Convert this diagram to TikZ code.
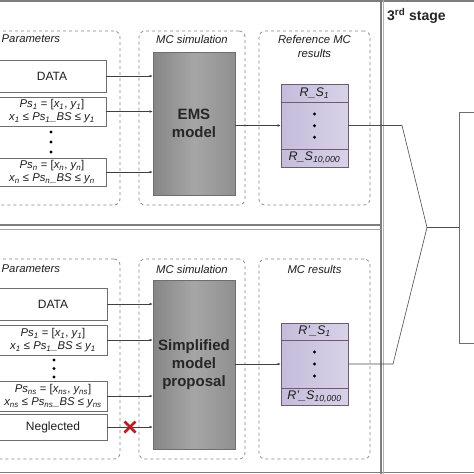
\documentclass[tikz,border=0pt]{standalone}
\usepackage{fontspec}
\setmainfont{Liberation Sans}
\usetikzlibrary{arrows.meta}
\newcommand{\sbs}[1]{\textsubscript{#1}}
\definecolor{frame}{RGB}{125,125,125}
\definecolor{dashc}{RGB}{135,135,135}
\definecolor{boxc}{RGB}{110,110,110}
\definecolor{mgdark}{RGB}{134,134,134}
\definecolor{mglight}{RGB}{166,166,166}
\definecolor{lavL}{RGB}{196,188,218}
\definecolor{lavR}{RGB}{216,210,232}
\definecolor{txt}{RGB}{30,30,30}
\definecolor{xred}{RGB}{180,30,30}
\tikzset{
  dashbox/.style={draw=dashc, dashed, line width=0.7pt, rounded corners=6pt, minimum width=#1},
  inbox/.style={draw=boxc, line width=0.7pt, fill=white, minimum width=108pt, align=center, inner sep=1pt, font=\fontsize{11.3}{13}\selectfont, text=txt},
  modelbox/.style={draw=boxc, line width=0.7pt, left color=mgdark, right color=mgdark!92!white, middle color=mglight, minimum width=82pt, align=center, font=\bfseries\fontsize{15}{18}\selectfont, text=black!85},
  stackrow/.style={draw=boxc!80!violet, line width=0.7pt, left color=lavL, right color=lavR, minimum width=67pt, inner sep=0pt, font=\itshape\fontsize{12.5}{14}\selectfont, text=txt},
  lbl/.style={font=\itshape\fontsize{11.3}{13}\selectfont, text=txt, inner sep=0pt},
  arr/.style={-{Latex[length=3pt,width=2.6pt]}, line width=0.5pt, draw=black!75},
  conn/.style={line width=0.6pt, draw=black!70},
  dotc/.style={circle, fill=black, inner sep=0pt, minimum size=3.3pt}
}
\begin{document}
\begin{tikzpicture}[x=1pt,y=-1pt]
\clip (0,0) rectangle (474,474);
\fill[white] (0,0) rectangle (474,474);

% frames
\draw[frame, line width=2pt] (0,1) -- (474,1);
\draw[frame, line width=1.6pt] (0,472.5) -- (474,472.5);
\draw[frame, line width=1.2pt] (381,0) -- (381,474);
\draw[frame!60, line width=0.7pt] (383.5,0) -- (383.5,474);
\draw[frame, line width=1.2pt] (0,225) -- (381,225);
\draw[frame!70, line width=0.9pt] (0,229.5) -- (381,229.5);
\node[anchor=west, font=\bfseries\fontsize{14}{16}\selectfont, text=black!85, inner sep=0pt] (stage) at (387,16) {3\textsuperscript{rd} stage};

% ---------------- top panel ----------------
\node[dashbox=140pt, minimum height=174pt] (par1) at (50,118) {};
\node[dashbox=106pt, minimum height=174pt] (sim1) at (192,118) {};
\node[dashbox=111pt, minimum height=174pt] (res1) at (314.5,118) {};
\node[lbl, anchor=west] (par1l) at (1.5,39) {Parameters};
\node[lbl] (sim1l) at (192,39) {MC simulation};
\node[lbl, align=center, font=\itshape\fontsize{11.3}{14}\selectfont] (res1l) at (314.5,46) {Reference MC\\results};

\node[inbox, minimum height=32pt, font=\fontsize{12}{14}\selectfont] (data1) at (52,76) {DATA};
\node[inbox, minimum height=29pt] (ps1a) at (52,111.5) {{\itshape Ps\sbs{1}} = [{\itshape x\sbs{1}}, {\itshape y\sbs{1}}]\\{\itshape x\sbs{1}} ≤ {\itshape Ps\sbs{1}\_BS} ≤ {\itshape y\sbs{1}}};
\node[inbox, minimum height=28pt] (psna) at (52,172) {{\itshape Ps\sbs{n}} = [{\itshape x\sbs{n}}, {\itshape y\sbs{n}}]\\{\itshape x\sbs{n}} ≤ {\itshape Ps\sbs{n}\_BS} ≤ {\itshape y\sbs{n}}};
\node[dotc] (d1a) at (51,132) {};
\node[dotc] (d1b) at (51,142) {};
\node[dotc] (d1c) at (51,152) {};

\node[modelbox, minimum height=143pt] (ems) at (194,123.5) {EMS\\model};

\node[stackrow, minimum height=18pt] (r1a) at (314.5,93) {R\_S\sbs{1}};
\node[stackrow, minimum height=47pt] (r1d) at (314.5,125.5) {};
\node[stackrow, minimum height=18pt] (r1b) at (314.5,158) {R\_S\sbs{10,000}};
\node[dotc] (s1a) at (314.5,114) {};
\node[dotc] (s1b) at (314.5,125.7) {};
\node[dotc] (s1c) at (314.5,137.3) {};

\draw[arr] (data1.east) -- (data1.east -| ems.west);
\draw[arr] (ps1a.east) -- (ps1a.east -| ems.west);
\draw[arr] (psna.east) -- (psna.east -| ems.west);
\draw[arr] (ems.east |- r1d.west) -- (r1d.west);

% ---------------- bottom panel ----------------
\node[dashbox=140pt, minimum height=200pt] (par2) at (50,359) {};
\node[dashbox=106pt, minimum height=200pt] (sim2) at (192,359) {};
\node[dashbox=111pt, minimum height=200pt] (res2) at (314.5,359) {};
\node[lbl, anchor=west] (par2l) at (1.5,269) {Parameters};
\node[lbl] (sim2l) at (192,269) {MC simulation};
\node[lbl] (res2l) at (314.5,269) {MC results};

\node[inbox, minimum height=32pt, font=\fontsize{12}{14}\selectfont] (data2) at (53,304) {DATA};
\node[inbox, minimum height=30pt] (ps1b) at (53,340) {{\itshape Ps\sbs{1}} = [{\itshape x\sbs{1}}, {\itshape y\sbs{1}}]\\{\itshape x\sbs{1}} ≤ {\itshape Ps\sbs{1}\_BS} ≤ {\itshape y\sbs{1}}};
\node[inbox, minimum height=30pt] (psnb) at (53,396) {{\itshape Ps\sbs{ns}} = [{\itshape x\sbs{ns}}, {\itshape y\sbs{ns}}]\\{\itshape x\sbs{ns}} ≤ {\itshape Ps\sbs{ns}\_BS} ≤ {\itshape y\sbs{ns}}};
\node[inbox, minimum height=26pt, font=\fontsize{12}{14}\selectfont] (negl) at (53,427) {Neglected};
\node[dotc] (d2a) at (54,360) {};
\node[dotc] (d2b) at (54,368.5) {};
\node[dotc] (d2c) at (54,377) {};

\node[modelbox, minimum height=169pt] (simp) at (194,364.5) {Simplified\\model\\proposal};

\node[stackrow, minimum height=17pt] (r2a) at (314.5,331.5) {R'\_S\sbs{1}};
\node[stackrow, minimum height=48pt] (r2d) at (314.5,364) {};
\node[stackrow, minimum height=17pt] (r2b) at (314.5,396.5) {R'\_S\sbs{10,000}};
\node[dotc] (s2a) at (314.5,352) {};
\node[dotc] (s2b) at (314.5,364) {};
\node[dotc] (s2c) at (314.5,376) {};

\draw[arr] (data2.east) -- (data2.east -| simp.west);
\draw[arr] (ps1b.east) -- (ps1b.east -| simp.west);
\draw[arr] (psnb.east) -- (psnb.east -| simp.west);
\draw[arr] (negl.east) -- (negl.east -| simp.west);
\draw[arr] (simp.east |- r2d.west) -- (r2d.west);

\coordinate (xc) at (130,427);
\draw[xred, line width=2.6pt] ([shift={(-5.5,-5.5)}]xc) -- ([shift={(5.5,5.5)}]xc);
\draw[xred, line width=2.6pt] ([shift={(-5.5,5.5)}]xc) -- ([shift={(5.5,-5.5)}]xc);

% ---------------- 3rd stage ----------------
\node[draw=boxc, line width=0.8pt, fill=white, minimum width=40pt, minimum height=231pt, anchor=north west] (rbox) at (459,112) {};
\coordinate (m1) at (402,125.5);
\coordinate (merge) at (427,227.5);
\coordinate (m2) at (393,364);
\draw[conn] (r1d.east) -- (m1) -- (merge);
\draw[conn] (r2d.east) -- (m2) -- (merge);
\draw[conn] (merge) -- (rbox.west |- merge);
\end{tikzpicture}
\end{document}
